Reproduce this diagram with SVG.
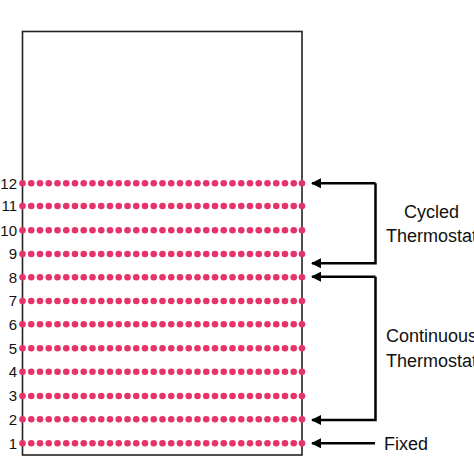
<svg xmlns="http://www.w3.org/2000/svg" xmlns:xlink="http://www.w3.org/1999/xlink" width="474" height="474" viewBox="0 0 474 474">
<style>
.num{font-family:"Liberation Sans",Arial,sans-serif;font-size:15px;fill:#111;text-anchor:end}
.lab{font-family:"Liberation Sans",Arial,sans-serif;font-size:18px;fill:#111}
.ln{fill:none;stroke:#000;stroke-width:2.5}
.dot{fill:#e5336b}
</style>
<defs>
<marker id="ah" viewBox="0 0 10 10" refX="9" refY="5" markerWidth="4" markerHeight="4" orient="auto" markerUnits="strokeWidth">
<path d="M0,0 L10,5 L0,10 z" fill="#000"/>
</marker>
<g id="row">
<circle class="dot" cx="22.5" cy="0" r="3.3"/><circle class="dot" cx="31.25" cy="0" r="3.3"/><circle class="dot" cx="40" cy="0" r="3.3"/><circle class="dot" cx="48.75" cy="0" r="3.3"/><circle class="dot" cx="57.5" cy="0" r="3.3"/><circle class="dot" cx="66.25" cy="0" r="3.3"/><circle class="dot" cx="75" cy="0" r="3.3"/><circle class="dot" cx="83.75" cy="0" r="3.3"/><circle class="dot" cx="92.5" cy="0" r="3.3"/><circle class="dot" cx="101.25" cy="0" r="3.3"/><circle class="dot" cx="110" cy="0" r="3.3"/><circle class="dot" cx="118.75" cy="0" r="3.3"/><circle class="dot" cx="127.5" cy="0" r="3.3"/><circle class="dot" cx="136.25" cy="0" r="3.3"/><circle class="dot" cx="145" cy="0" r="3.3"/><circle class="dot" cx="153.75" cy="0" r="3.3"/><circle class="dot" cx="162.5" cy="0" r="3.3"/><circle class="dot" cx="171.25" cy="0" r="3.3"/><circle class="dot" cx="180" cy="0" r="3.3"/><circle class="dot" cx="188.75" cy="0" r="3.3"/><circle class="dot" cx="197.5" cy="0" r="3.3"/><circle class="dot" cx="206.25" cy="0" r="3.3"/><circle class="dot" cx="215" cy="0" r="3.3"/><circle class="dot" cx="223.75" cy="0" r="3.3"/><circle class="dot" cx="232.5" cy="0" r="3.3"/><circle class="dot" cx="241.25" cy="0" r="3.3"/><circle class="dot" cx="250" cy="0" r="3.3"/><circle class="dot" cx="258.75" cy="0" r="3.3"/><circle class="dot" cx="267.5" cy="0" r="3.3"/><circle class="dot" cx="276.25" cy="0" r="3.3"/><circle class="dot" cx="285" cy="0" r="3.3"/><circle class="dot" cx="293.75" cy="0" r="3.3"/><circle class="dot" cx="302" cy="0" r="3.3"/>
</g>
</defs>
<rect width="474" height="474" fill="#fff"/>
<g id="container">
<rect x="22.5" y="31.5" width="279.5" height="423.5" fill="none" stroke="#222" stroke-width="1.6"/>
</g>
<g id="layers">
<use xlink:href="#row" y="183.3"/>
<use xlink:href="#row" y="206"/>
<use xlink:href="#row" y="230.3"/>
<use xlink:href="#row" y="254"/>
<use xlink:href="#row" y="277.3"/>
<use xlink:href="#row" y="301"/>
<use xlink:href="#row" y="324.3"/>
<use xlink:href="#row" y="348.3"/>
<use xlink:href="#row" y="371.7"/>
<use xlink:href="#row" y="396"/>
<use xlink:href="#row" y="419.3"/>
<use xlink:href="#row" y="443.3"/>
</g>
<g id="numbers">
<text class="num" x="17" y="188.6">12</text>
<text class="num" x="17" y="211.3">11</text>
<text class="num" x="17" y="235.6">10</text>
<text class="num" x="17" y="259.3">9</text>
<text class="num" x="17" y="282.6">8</text>
<text class="num" x="17" y="306.3">7</text>
<text class="num" x="17" y="329.6">6</text>
<text class="num" x="17" y="353.6">5</text>
<text class="num" x="17" y="377">4</text>
<text class="num" x="17" y="401.3">3</text>
<text class="num" x="17" y="424.6">2</text>
<text class="num" x="17" y="448.6">1</text>
</g>
<g id="connectors">
<path class="ln" d="M375.5,183.3 H312" marker-end="url(#ah)"/>
<path class="ln" d="M375.5,183.3 V263.3 H312" marker-end="url(#ah)"/>
<path class="ln" d="M375.5,276.7 H312" marker-end="url(#ah)"/>
<path class="ln" d="M375.5,276.7 V420 H312" marker-end="url(#ah)"/>
<path class="ln" d="M375,443.3 H312" marker-end="url(#ah)"/>
</g>
<g id="cycled">
<text class="lab" x="431.5" y="218" text-anchor="middle">Cycled</text>
<text class="lab" x="386" y="242">Thermostat</text>
</g>
<g id="continuous">
<text class="lab" x="386" y="342">Continuous</text>
<text class="lab" x="386" y="367">Thermostat</text>
</g>
<g id="fixed">
<text class="lab" x="384" y="449.5">Fixed</text>
</g>
</svg>
